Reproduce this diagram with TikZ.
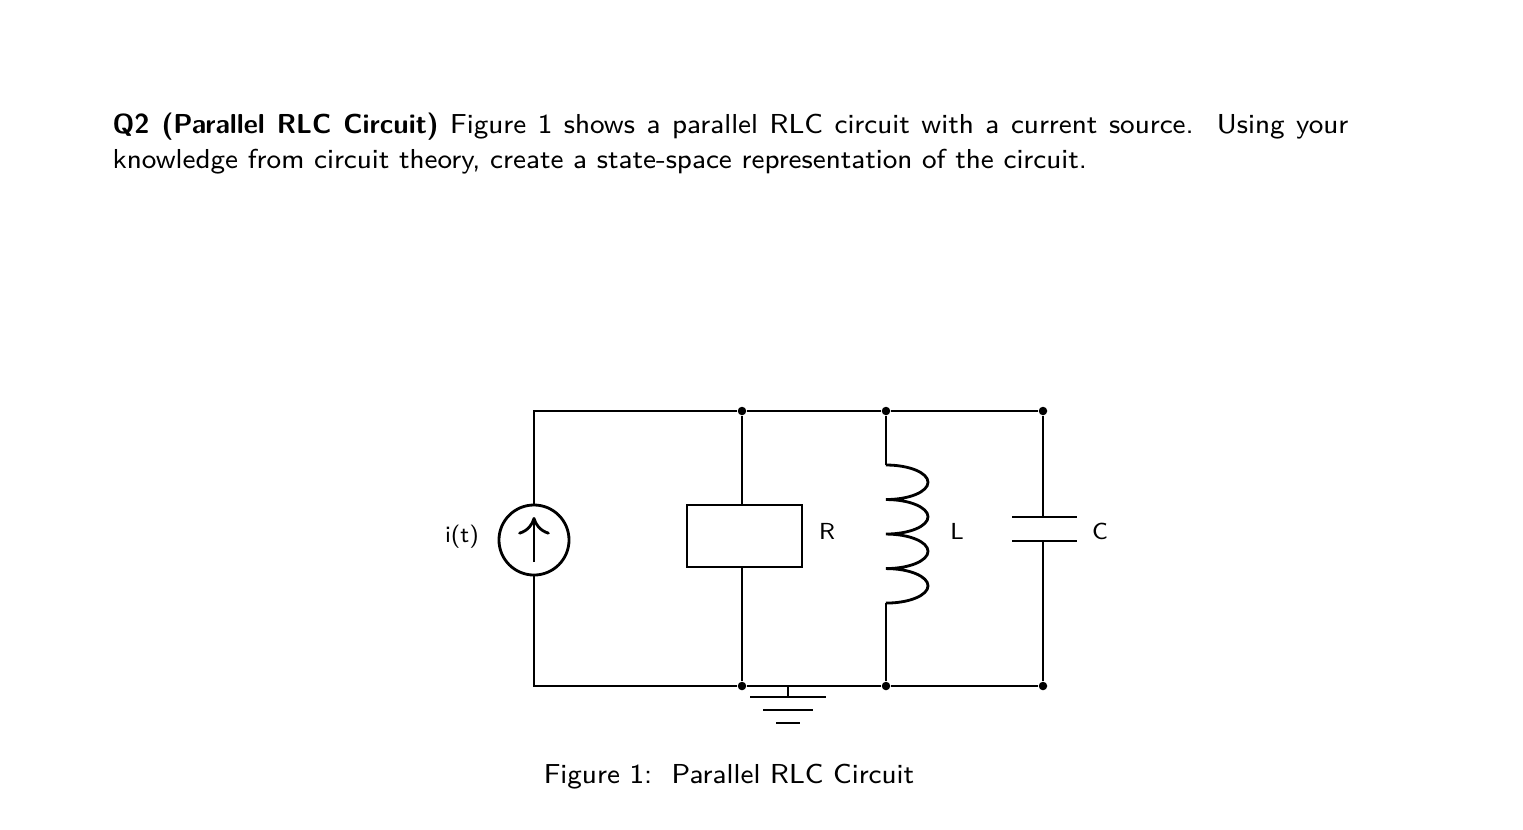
\documentclass[tikz,border=0pt]{standalone}
\usetikzlibrary{arrows.meta}
\begin{document}
\begin{tikzpicture}[x=0.01cm,y=-0.01cm,
  w/.style={line width=0.8pt},
  dot/.style={circle,fill=black,inner sep=0pt,minimum size=0.085cm},
  lab/.style={font=\sffamily\fontsize{6.6}{8}\selectfont}]
\useasboundingbox (0,0) rectangle (1523,829);
\node[anchor=base west,inner sep=0pt,font=\sffamily\fontsize{7.8}{10}\selectfont] (l1) at (112,133)
 {\makebox[12.35cm][s]{\textbf{Q2 (Parallel RLC Circuit)} Figure 1 shows a parallel RLC circuit with a current source.\ \ Using your}};
\node[anchor=base west,inner sep=0pt,font=\sffamily\fontsize{7.8}{10}\selectfont] (l2) at (112,168)
 {knowledge from circuit theory, create a state-space representation of the circuit.};
% nodes
\node[dot] (t1) at (742,411) {};
\node[dot] (t2) at (886,411) {};
\node[dot] (t3) at (1043,411) {};
\node[dot] (b1) at (742,686) {};
\node[dot] (b2) at (886,686) {};
\node[dot] (b3) at (1043,686) {};
\coordinate (tl) at (533,411);
\coordinate (bl) at (533,686);
\node[circle,draw,w,minimum size=0.7cm,inner sep=0pt] (src) at (534,540) {};
\draw[w,-{To[length=5pt,width=9pt]}] (534,562) -- (534,517);
\node[draw,w,minimum width=1.15cm,minimum height=0.62cm,inner sep=0pt] (res) at (744.5,536) {};
\coordinate (ltop) at (886,465);
\coordinate (lbot) at (886,603);
\coordinate (ctop) at (1043,517);
\coordinate (cbot) at (1043,541);
\coordinate (g) at (788,686);
% wires
\draw[w] (src.north) |- (tl) -- (t1) -- (t2) -- (t3);
\draw[w] (src.south) |- (bl) -- (b1) -- (b2) -- (b3);
\draw[w] (t1) -- (742,505); \draw[w] (742,567) -- (b1);
\draw[w] (t2) -- (ltop); \draw[w] (lbot) -- (b2);
\draw[w] (ltop) arc(90:-90:0.42cm and 0.1725cm) arc(90:-90:0.42cm and 0.1725cm)
  arc(90:-90:0.42cm and 0.1725cm) arc(90:-90:0.42cm and 0.1725cm);
\draw[w] (t3) -- (ctop); \draw[w] (cbot) -- (b3);
\draw[w] (1012,517) -- (1077,517); \draw[w] (1012,541) -- (1077,541);
\draw[w] (g) -- (788,697);
\draw[w] (750,697) -- (826,697); \draw[w] (763,710) -- (813,710); \draw[w] (776,723) -- (800,723);
% labels
\node[lab] at (462,537) {i(t)};
\node[lab] at (827,531) {R};
\node[lab] at (957,531) {L};
\node[lab] at (1100,531) {C};
\node[font=\sffamily\fontsize{7.8}{10}\selectfont] (cap) at (729,777) {Figure 1:\ \ Parallel RLC Circuit};
\end{tikzpicture}
\end{document}
